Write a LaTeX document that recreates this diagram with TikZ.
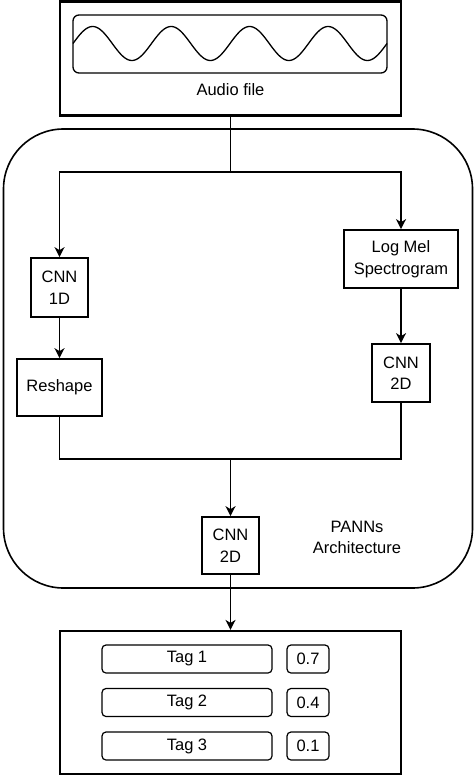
\documentclass[tikz,border=0pt]{standalone}
\usepackage{fontspec}
\setmainfont{Liberation Sans}
\usetikzlibrary{arrows.meta}
\begin{document}
\begin{tikzpicture}[x=1pt,y=-1pt,
  font=\fontsize{16.5}{21.5}\selectfont,
  box/.style={draw=black, line width=1.7pt, inner sep=0pt, align=center},
  rbox/.style={draw=black, line width=1.2pt, inner sep=0pt, rounded corners=4pt, align=center},
  conn/.style={draw=black, line width=1.7pt},
  arr/.style={conn, -{Stealth[length=10pt,width=10pt,inset=3pt]}}]
\useasboundingbox (0,0) rectangle (474,778);
% audio
\node[box, line width=2.2pt, minimum width=341pt, minimum height=114pt] (audio) at (230.5,58.5) {};
\node[rbox, line width=1.3pt, rounded corners=6pt, minimum width=314pt, minimum height=58pt] (wave) at (230,44) {};
\draw[line width=1.3pt] plot[domain=0:1440, samples=200, smooth] ({73+\x*0.218056},{43.5-17*sin(\x)});
\node (audiolbl) at (230.5,90) {Audio file};
% PANNs frame
\node[draw=black, line width=1.6pt, rounded corners=60pt, minimum width=469pt, minimum height=459pt] (panns) at (238,358.5) {};
\node[align=center] (pannslbl) at (357,537.5) {PANNs\\Architecture};
% boxes
\node[box, minimum width=57pt, minimum height=59pt] (cnn1d) at (59.5,287.5) {CNN\\1D};
\node[box, minimum width=85pt, minimum height=57pt] (reshape) at (59.5,387.5) {Reshape};
\node[box, minimum width=114pt, minimum height=58pt] (logmel) at (401,259) {Log Mel\\Spectrogram};
\node[box, minimum width=58pt, minimum height=58pt] (cnn2dr) at (401,373) {CNN\\2D};
\node[box, minimum width=57pt, minimum height=57pt] (cnn2dc) at (230.5,545.5) {CNN\\2D};
% output
\node[box, line width=2.2pt, minimum width=341pt, minimum height=143pt] (output) at (230.5,702.5) {};
\node[rbox, minimum width=170pt, minimum height=28pt] (tag1) at (187,659) {Tag 1};
\node[rbox, minimum width=170pt, minimum height=28pt] (tag2) at (187,702.5) {Tag 2};
\node[rbox, minimum width=170pt, minimum height=28pt] (tag3) at (187,746) {Tag 3};
\node[rbox, minimum width=42pt, minimum height=28pt] (val1) at (308,659) {0.7};
\node[rbox, minimum width=42pt, minimum height=28pt] (val2) at (308,702.5) {0.4};
\node[rbox, minimum width=42pt, minimum height=28pt] (val3) at (308,746) {0.1};
% connectors
\coordinate (split) at (230.5,172);
\coordinate (merge) at (230.5,459);
\draw[conn] (audio.south) -- (split);
\draw[arr] (split) -| (cnn1d.north);
\draw[arr] (split) -| (logmel.north);
\draw[arr] (cnn1d.south) -- (reshape.north);
\draw[arr] (logmel.south) -- (cnn2dr.north);
\draw[conn] (reshape.south) |- (merge);
\draw[conn] (cnn2dr.south) |- (merge);
\draw[arr] (merge) -- (cnn2dc.north);
\draw[arr] (cnn2dc.south) -- (output.north);
\end{tikzpicture}
\end{document}
